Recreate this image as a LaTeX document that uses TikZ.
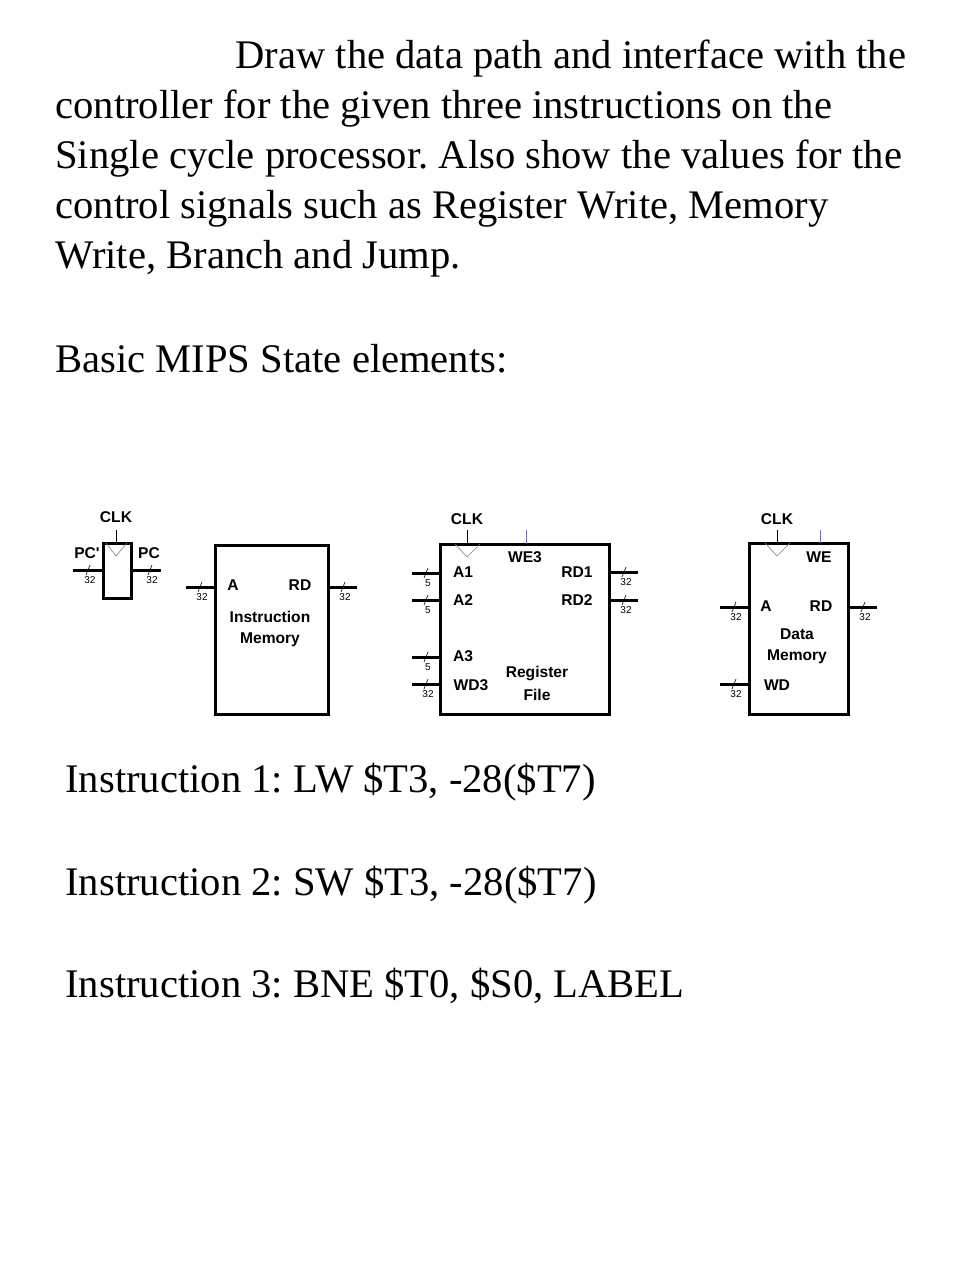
\documentclass[tikz,border=0pt]{standalone}
\usepackage{fontspec}
\setmainfont{Liberation Serif}
\newfontfamily\arial{Liberation Sans}
\usetikzlibrary{positioning}
\frenchspacing
\tikzset{
  px/.style={x=0.5pt,y=-0.5pt},
  block/.style={draw,line width=1.5pt,inner sep=0pt},
  bus/.style={line width=1.5pt},
  thin clk/.style={line width=0.3pt,gray},
  pinlabel/.style={font=\arial\bfseries\fontsize{7.8}{8}\selectfont,inner sep=0pt},
  widthlabel/.style={font=\arial\fontsize{5}{5}\selectfont,inner sep=0pt},
  prose/.style={font=\fontsize{20.3}{22}\selectfont,anchor=base west,inner sep=0pt}
}
% slash across a bus with its width below
\newcommand\busmark[3]{\draw[line width=0.3pt] (#1-2,#2+5) -- (#1+2,#2-5);
  \node[widthlabel] at (#1+2,#2+10) {#3};}
\begin{document}
\begin{tikzpicture}[px]
      \useasboundingbox (0,0) rectangle (978,1280);

      % Question text
      \node[prose] (l1) at (235,68) {Draw the data path and interface with the};
      \node[prose] (l2) at (55,118) {controller for the given three instructions on the};
      \node[prose] (l3) at (55,168) {Single cycle processor. Also show the values for the};
      \node[prose] (l4) at (55,218) {control signals such as Register Write, Memory};
      \node[prose] (l5) at (55,268) {Write, Branch and Jump.};
      \node[prose] (st) at (55,372) {Basic MIPS State elements:};

      % PC register
      \draw[block] (103,543) rectangle (131,598);
      \coordinate (pcin) at (103,570); \coordinate (pcout) at (131,570);
      \coordinate (pcclk) at (116,543);
      \draw[thin clk] (106,543) -- (116,556) -- (127,543);
      \draw[line width=0.3pt] (pcclk) -- ++(0,-13);
      \node[pinlabel] (pcclkl) at (116,517) {CLK};
      \coordinate (pcw) at (73,570); \coordinate (pce) at (161,570);
      \draw[bus] (pcw) -- (pcin); \draw[bus] (pcout) -- (pce);
      \node[pinlabel] (pcp) at (87,553) {PC'};
      \node[pinlabel] (pcl) at (149,553) {PC};
      \busmark{88}{570}{32}\busmark{150}{570}{32}

      % Instruction memory
      \draw[block] (215,545) rectangle (328,714);
      \coordinate (ima) at (215,587); \coordinate (imrd) at (328,587);
      \coordinate (imw) at (186,587); \coordinate (ime) at (357,587);
      \draw[bus] (imw) -- (ima); \draw[bus] (imrd) -- (ime);
      \busmark{200}{587}{32}\busmark{343}{587}{32}
      \node[pinlabel] (imal) at (233,585) {A};
      \node[pinlabel] (imrdl) at (300,585) {RD};
      \node[pinlabel] (iml1) at (270,617) {Instruction};
      \node[pinlabel] (iml2) at (270,640) {Memory};

      % Register file
      \draw[block] (440,544) rectangle (609,714);
      \draw[thin clk] (455,544) -- (467,557) -- (480,544);
      \draw[line width=0.3pt] (467,544) -- (467,530);
      \draw[line width=0.3pt,blue!60] (526,544) -- (526,530);
      \node[pinlabel] (rfclk) at (467,519) {CLK};
      \node[pinlabel] (we3) at (525,557) {WE3};
      \foreach \y/\w/\n in {573/5/A1,600/5/A2,657/5/A3,684/32/WD3}{
          \coordinate (rf\n) at (440,\y);
          \coordinate (rf\n w) at (412,\y);
          \draw[bus] (rf\n w) -- (rf\n);
          \busmark{426}{\y}{\w}
        }
      \foreach \y/\n in {572/RD1,600/RD2}{
          \coordinate (rf\n) at (609,\y);
          \coordinate (rf\n e) at (638,\y);
          \draw[bus] (rf\n) -- (rf\n e);
          \busmark{624}{\y}{32}
        }
      \node[pinlabel] (a1) at (463,572) {A1};
      \node[pinlabel] (a2) at (463,600) {A2};
      \node[pinlabel] (a3) at (463,656) {A3};
      \node[pinlabel] (wd3) at (471,685) {WD3};
      \node[pinlabel] (rd1) at (577,572) {RD1};
      \node[pinlabel] (rd2) at (577,600) {RD2};
      \node[pinlabel] (rfl1) at (537,673) {Register};
      \node[pinlabel] (rfl2) at (537,695) {File};

      % Data memory
      \draw[block] (749,543) rectangle (848,714);
      \draw[thin clk] (765,543) -- (777,556) -- (790,543);
      \draw[line width=0.3pt] (777,543) -- (777,530);
      \draw[line width=0.3pt,blue!60] (820,543) -- (820,530);
      \node[pinlabel] (dmclk) at (777,519) {CLK};
      \node[pinlabel] (we) at (819,557) {WE};
      \coordinate (dma) at (749,607); \coordinate (dmaw) at (720,607);
      \coordinate (dmwd) at (749,684); \coordinate (dmwdw) at (720,684);
      \coordinate (dmrd) at (848,607); \coordinate (dmrde) at (877,607);
      \draw[bus] (dmaw) -- (dma); \draw[bus] (dmwdw) -- (dmwd);
      \draw[bus] (dmrd) -- (dmrde);
      \busmark{734}{607}{32}\busmark{734}{684}{32}\busmark{863}{607}{32}
      \node[pinlabel] (dmal) at (766,606) {A};
      \node[pinlabel] (dmrdl) at (821,606) {RD};
      \node[pinlabel] (dml1) at (797,634) {Data};
      \node[pinlabel] (dml2) at (797,657) {Memory};
      \node[pinlabel] (dmwdl) at (777,685) {WD};

      % Instructions
      \node[prose] (i1) at (65,792) {Instruction 1: LW \$T3, -28(\$T7)};
      \node[prose] (i2) at (65,895) {Instruction 2: SW \$T3, -28(\$T7)};
      \node[prose] (i3) at (65,997) {Instruction 3: BNE \$T0, \$S0, LABEL};
    \end{tikzpicture}
\end{document}
